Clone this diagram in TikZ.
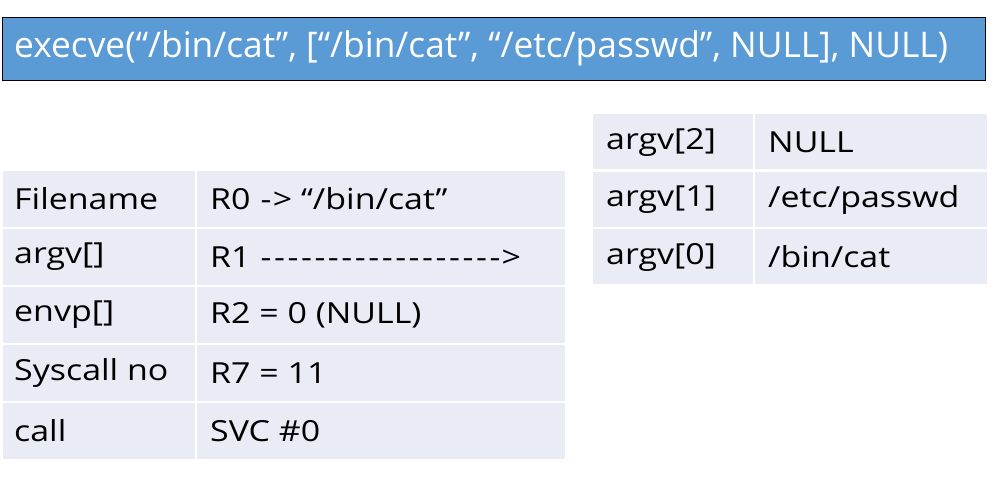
\documentclass[tikz,border=0pt]{standalone}
\usepackage{fontspec}
\setmainfont{Open Sans}
\definecolor{cellbg}{HTML}{E9EBF5}
\definecolor{titlebg}{HTML}{5B9BD5}
\newcommand{\dsh}{\makebox[11.5pt]{-}}
\newcommand{\wide}[1]{\scalebox{1.17}[1]{#1}}
\begin{document}
\begin{tikzpicture}[x=1pt,y=-1pt,
  cell/.style={fill=cellbg,draw=white,line width=2.5pt},
  ctext/.style={anchor=west,inner sep=0pt,font=\fontsize{29}{32}\selectfont}]
\useasboundingbox (0,0) rectangle (1000,476);
\node[draw=black,line width=1pt,fill=titlebg,minimum width=983pt,minimum height=63pt,anchor=north west,inner sep=0pt] (title) at (2,17) {};
\node[anchor=west,inner sep=0pt,text=white,font=\fontsize{30}{32}\selectfont] (tt) at (14,48.5)
  {\resizebox{934pt}{!}{execve(“/bin/cat”, [“/bin/cat”, “/etc/passwd”, NULL], NULL)}};
% left table
\foreach \i/\a/\b in {0/Filename/{R0 \dsh> “/bin/cat”},1/argv[]/{R1 \dsh\dsh\dsh\dsh\dsh\dsh\dsh\dsh\dsh\dsh\dsh\dsh\dsh\dsh\dsh\dsh\dsh\dsh>},2/envp[]/{R2 = 0 (NULL)},3/Syscall no/{R7 = 11},4/call/{SVC \#0}}{
  \path[cell] (2,170+58*\i) rectangle (196,228+58*\i);
  \path[cell] (196,170+58*\i) rectangle (566,228+58*\i);
  \node[ctext] (l\i a) at (14,199+58*\i) {\wide{\a}};
  \node[ctext] (l\i b) at (210,199+58*\i) {\wide{\b}};
}
% right table
\foreach \i/\a/\b in {0/argv[2]/NULL,1/argv[1]/{/etc/passwd},2/argv[0]/{/bin/cat}}{
  \path[cell] (592,113+57.5*\i) rectangle (754,170.5+57.5*\i);
  \path[cell] (754,113+57.5*\i) rectangle (988,170.5+57.5*\i);
  \node[ctext] (r\i a) at (606,142+57.5*\i) {\wide{\a}};
  \node[ctext] (r\i b) at (768,142+57.5*\i) {\wide{\b}};
}
\end{tikzpicture}
\end{document}
